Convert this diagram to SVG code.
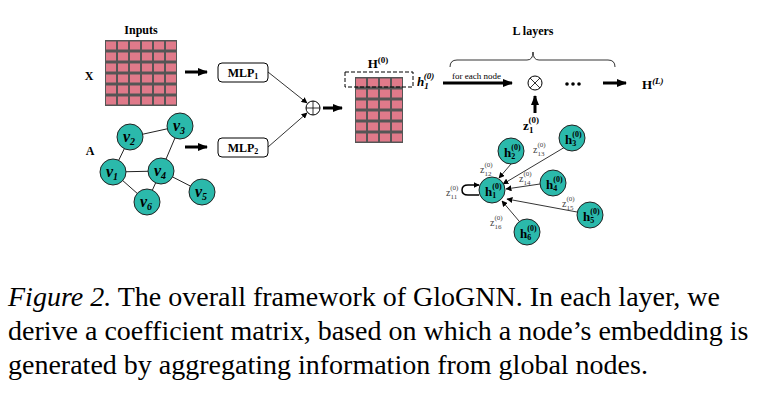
<svg xmlns="http://www.w3.org/2000/svg" width="768" height="401" viewBox="0 0 768 401">
<defs>
<marker id="ah" viewBox="0 0 10 10" refX="9" refY="5" markerWidth="6" markerHeight="6" markerUnits="userSpaceOnUse" orient="auto"><path d="M0,0L10,5L0,10z" fill="#000"/></marker>
<marker id="as" viewBox="0 0 10 10" refX="9" refY="5" markerWidth="10" markerHeight="10" markerUnits="userSpaceOnUse" orient="auto"><path d="M0,1L10,5L0,9z" fill="#000"/></marker>
<pattern id="g6" x="105" y="40" width="12" height="11" patternUnits="userSpaceOnUse"><rect width="12" height="11" fill="#555"/><rect x="1" y="1.5" width="10" height="8" fill="#e07a8a"/></pattern>
<pattern id="g4" x="355" y="77" width="12" height="11" patternUnits="userSpaceOnUse"><rect width="12" height="11" fill="#555"/><rect x="1" y="1.5" width="10" height="8" fill="#e07a8a"/></pattern>
</defs>
<style>
text{font-family:"Liberation Serif",serif;fill:#000}
.b{font-weight:bold;font-size:12px}
.n{fill:#2bb9ab;stroke:#222;stroke-width:1}
.e{stroke:#222;stroke-width:1;fill:none}
.v{font-style:italic;font-weight:bold;font-size:16px}
.h{font-weight:bold;font-size:13px}
.z{font-size:10px;fill:#444}
.big{stroke:#000;stroke-width:3;fill:none}
.thin{stroke:#000;stroke-width:0.8;fill:none}
.cap{font-size:28px}
</style>
<g id="inputs">
<text x="141" y="34" class="b" text-anchor="middle">Inputs</text>
<rect x="105" y="40" width="72" height="66" fill="url(#g6)"/>
<text x="89" y="80" class="b" text-anchor="middle">X</text>
<text x="90" y="155" class="b" text-anchor="middle">A</text>
</g>
<g id="graph">
<path class="e" d="M113,172L130,137M130,137L180,126M180,126L161,171M113,172L161,171M113,172L147,202M161,171L147,202M161,171L202,192"/>
<g id="v1"><circle class="n" cx="113" cy="172" r="13"/><text x="112" y="177" class="v" text-anchor="middle">v<tspan font-size="10" dy="3">1</tspan></text></g>
<g id="v2"><circle class="n" cx="130" cy="137" r="13"/><text x="129" y="142" class="v" text-anchor="middle">v<tspan font-size="10" dy="3">2</tspan></text></g>
<g id="v3"><circle class="n" cx="180" cy="126" r="13"/><text x="179" y="131" class="v" text-anchor="middle">v<tspan font-size="10" dy="3">3</tspan></text></g>
<g id="v4"><circle class="n" cx="161" cy="171" r="13"/><text x="160" y="176" class="v" text-anchor="middle">v<tspan font-size="10" dy="3">4</tspan></text></g>
<g id="v5"><circle class="n" cx="202" cy="192" r="13"/><text x="201" y="197" class="v" text-anchor="middle">v<tspan font-size="10" dy="3">5</tspan></text></g>
<g id="v6"><circle class="n" cx="147" cy="202" r="13"/><text x="146" y="207" class="v" text-anchor="middle">v<tspan font-size="10" dy="3">6</tspan></text></g>
</g>
<g id="mlp1"><rect x="218" y="63" width="50" height="19" rx="4" fill="#fff" stroke="#000"/><text x="243" y="77" class="b" text-anchor="middle">MLP<tspan font-size="8" dy="2">1</tspan></text></g>
<g id="mlp2"><rect x="218" y="138" width="50" height="19" rx="4" fill="#fff" stroke="#000"/><text x="243" y="152" class="b" text-anchor="middle">MLP<tspan font-size="8" dy="2">2</tspan></text></g>
<g id="plus"><circle cx="313" cy="108" r="7" fill="#fff" stroke="#000"/><path class="thin" d="M306,108H320M313,101V115"/></g>
<g id="H0">
<text x="378" y="68" class="h" text-anchor="middle">H<tspan font-size="9" dy="-5">(0)</tspan></text>
<rect x="355" y="77" width="48" height="66" fill="url(#g4)"/>
<rect x="345" y="72" width="68" height="15" fill="none" stroke="#000" stroke-dasharray="4,2"/>
<text x="417" y="86" class="h" font-style="italic">h<tspan font-size="9" dy="3">1</tspan><tspan font-size="9" dx="-5" dy="-10">(0)</tspan></text>
</g>
<g id="otimes"><circle cx="535" cy="83" r="7" fill="#fff" stroke="#000"/><path class="thin" d="M530,78L540,88M540,78L530,88"/></g>
<g id="dots"><circle cx="567" cy="84" r="1.8"/><circle cx="573" cy="84" r="1.8"/><circle cx="579" cy="84" r="1.8"/></g>
<g id="HL"><text x="642" y="89" class="h">H<tspan font-size="9" dy="-5" font-style="italic">(L)</tspan></text></g>
<g id="layers">
<text x="533" y="35" class="b" text-anchor="middle">L layers</text>
<path class="thin" d="M450,67Q450,60 457,60H527Q533,60 533,52Q533,60 539,60H608Q615,60 615,67"/>
<text x="452" y="79" font-size="9">for each node</text>
<text x="531" y="130" class="h" text-anchor="middle">z<tspan font-size="9" dy="3">1</tspan><tspan font-size="9" dx="-5" dy="-10">(0)</tspan></text>
</g>
<g id="connectors">
<path class="big" d="M185,72H207" marker-end="url(#as)"/>
<path class="big" d="M185,147H207" marker-end="url(#as)"/>
<path class="big" d="M323,108H342" marker-end="url(#as)"/>
<path class="big" d="M443,83H512" marker-end="url(#as)"/>
<path class="big" d="M603,83H626" marker-end="url(#as)"/>
<path class="big" d="M535,113V96" marker-end="url(#as)"/>
<path class="thin" d="M268,72L307,103" marker-end="url(#ah)"/>
<path class="thin" d="M268,147L307,113" marker-end="url(#ah)"/>
<path class="thin" d="M511,164L499,178" marker-end="url(#ah)"/>
<path class="thin" d="M565,147L503,184" marker-end="url(#ah)"/>
<path class="thin" d="M540,184L506,189" marker-end="url(#ah)"/>
<path class="thin" d="M577,212L507,199" marker-end="url(#ah)"/>
<path class="thin" d="M519,221L502,201" marker-end="url(#ah)"/>
<path stroke="#000" stroke-width="1.5" fill="none" d="M479,195H468Q462,195 462,190Q462,185 468,185H479" marker-end="url(#ah)"/>
</g>
<g id="attn">
<g id="h1"><circle class="n" cx="492" cy="190" r="13"/><text x="485" y="196" class="h">h<tspan font-size="8" dy="2">1</tspan><tspan font-size="8" dx="-4" dy="-9">(0)</tspan></text></g>
<g id="h2"><circle class="n" cx="511" cy="151" r="13"/><text x="504" y="157" class="h">h<tspan font-size="8" dy="2">2</tspan><tspan font-size="8" dx="-4" dy="-9">(0)</tspan></text></g>
<g id="h3"><circle class="n" cx="572" cy="138" r="13"/><text x="565" y="144" class="h">h<tspan font-size="8" dy="2">3</tspan><tspan font-size="8" dx="-4" dy="-9">(0)</tspan></text></g>
<g id="h4"><circle class="n" cx="553" cy="183" r="13"/><text x="546" y="189" class="h">h<tspan font-size="8" dy="2">4</tspan><tspan font-size="8" dx="-4" dy="-9">(0)</tspan></text></g>
<g id="h5"><circle class="n" cx="590" cy="215" r="13"/><text x="583" y="221" class="h">h<tspan font-size="8" dy="2">5</tspan><tspan font-size="8" dx="-4" dy="-9">(0)</tspan></text></g>
<g id="h6"><circle class="n" cx="527" cy="232" r="13"/><text x="520" y="238" class="h">h<tspan font-size="8" dy="2">6</tspan><tspan font-size="8" dx="-4" dy="-9">(0)</tspan></text></g>
<text x="480" y="173" class="z">z<tspan font-size="7" dy="3">12</tspan><tspan font-size="7" dx="-7" dy="-9">(0)</tspan></text>
<text x="533" y="153" class="z">z<tspan font-size="7" dy="3">13</tspan><tspan font-size="7" dx="-7" dy="-9">(0)</tspan></text>
<text x="519" y="182" class="z">z<tspan font-size="7" dy="3">14</tspan><tspan font-size="7" dx="-7" dy="-9">(0)</tspan></text>
<text x="562" y="207" class="z">z<tspan font-size="7" dy="3">15</tspan><tspan font-size="7" dx="-7" dy="-9">(0)</tspan></text>
<text x="490" y="226" class="z">z<tspan font-size="7" dy="3">16</tspan><tspan font-size="7" dx="-7" dy="-9">(0)</tspan></text>
<text x="446" y="196" class="z">z<tspan font-size="7" dy="3">11</tspan><tspan font-size="7" dx="-7" dy="-9">(0)</tspan></text>
</g>
<g id="caption">
<text x="8" y="306" class="cap"><tspan font-style="italic">Figure 2.</tspan> The overall framework of GloGNN. In each layer, we</text>
<text x="8" y="340" class="cap">derive a coefficient matrix, based on which a node’s embedding is</text>
<text x="8" y="374" class="cap">generated by aggregating information from global nodes.</text>
</g>
</svg>
